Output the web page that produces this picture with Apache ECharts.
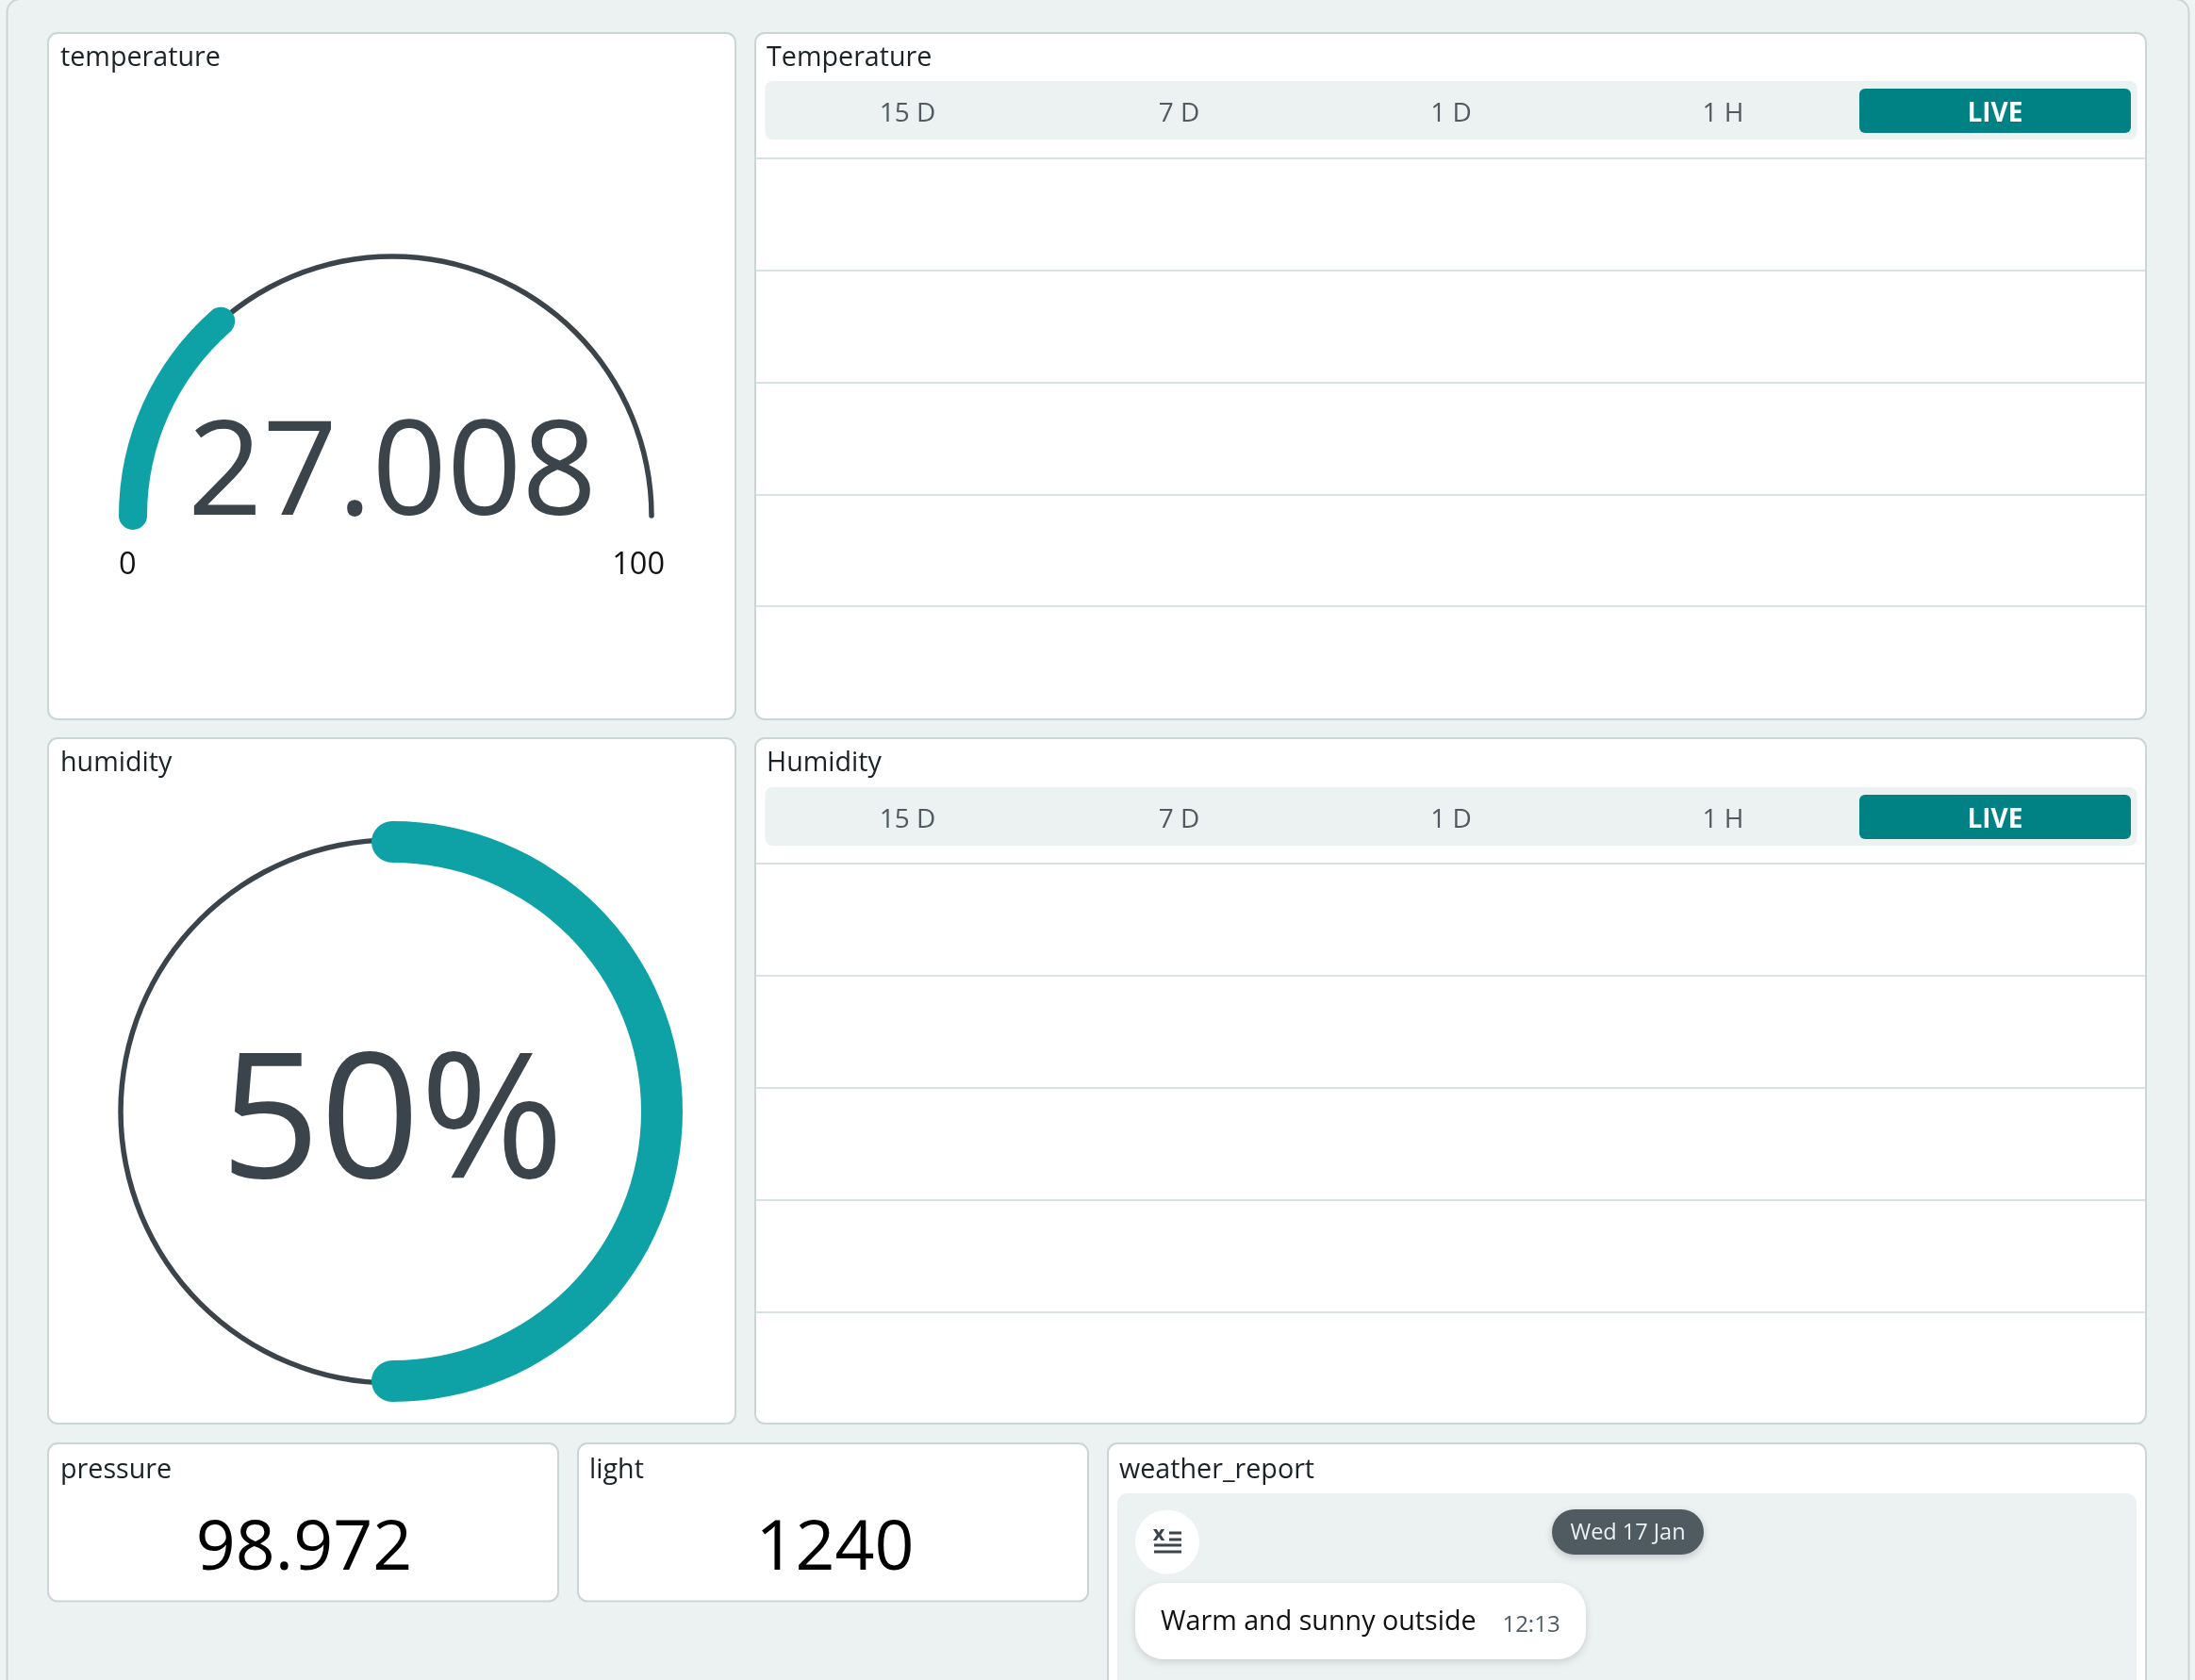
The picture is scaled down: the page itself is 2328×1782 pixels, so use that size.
<!DOCTYPE html>
<html><head><meta charset="utf-8">
<style>html,body{margin:0;padding:0;background:#ECF1F1}#c{width:2328px;height:1782px}</style>
<script src="https://cdn.jsdelivr.net/npm/echarts@6/dist/echarts.min.js"></script>
</head><body><div id="c"></div>
<script>
const temperatureValue = 27.008;
const temperatureRange = [0, 100];
const humidityValue = 50;
const humidityRange = [0, 100];
const pressureValue = '98.972';
const lightValue = '1240';
const rangeTabs = ['15 D', '7 D', '1 D', '1 H', 'LIVE'];
const temperatureHistory = [];
const humidityHistory = [];
const weatherMessage = 'Warm and sunny outside';
const weatherTime = '12:13';
const weatherDate = 'Wed 17 Jan';

const FONT = '"Open Sans", sans-serif';
const INK = '#3B444A', TEAL = '#0EA2A7', PANEL = '#ECF1F1', BORDER = '#CAD5D5', MUTED = '#4F5B61';
const gfx = [];
const box = (x, y, w, h, r, fill, stroke, lw, extra) => gfx.push({type:'rect', silent:true, z:(extra&&extra.z)||1,
  shape:{x, y, width:w, height:h, r},
  style:Object.assign({fill, stroke:stroke||null, lineWidth:lw||0}, (extra&&extra.style)||{})});
const txt = (text, x, y, size, fill, align, weight) => gfx.push({type:'text', silent:true, z:10,
  style:{text, x, y, fill, align:align||'left', verticalAlign:'middle',
    font:(weight||'400')+' '+size+'px '+FONT}});

// outer frame
box(7.5, -1, 2314, 1800, 14, PANEL, BORDER, 2);
// cards
box(51, 35, 729, 728, 10, '#fff', BORDER, 2);
box(801, 35, 1475, 728, 10, '#fff', BORDER, 2);
box(51, 783, 729, 727, 10, '#fff', BORDER, 2);
box(801, 783, 1475, 727, 10, '#fff', BORDER, 2);
box(51, 1531, 541, 167.5, 10, '#fff', BORDER, 2);
box(613, 1531, 541, 167.5, 10, '#fff', BORDER, 2);
box(1175, 1531, 1101, 300, 10, '#fff', BORDER, 2);

const CARD_TITLE = 28.7;
txt('temperature', 64, 61.5, CARD_TITLE, '#1a2226');
txt('Temperature', 813, 61.5, CARD_TITLE, '#1a2226');
txt('humidity', 64, 810, CARD_TITLE, '#1a2226');
txt('Humidity', 813, 810, CARD_TITLE, '#1a2226');
txt('pressure', 64, 1559.5, CARD_TITLE, '#1a2226');
txt('light', 625, 1559.5, CARD_TITLE, '#1a2226');
txt('weather_report', 1187, 1559.5, CARD_TITLE, '#1a2226');

// range tabs
const tabX = [962.6, 1250.5, 1539, 1827.5, 2116];
[0, 749].forEach(dy => {
  box(811.5, 86+dy, 1455, 62, 8, PANEL);
  box(1972, 94+dy, 288, 47, 6, '#008184');
  rangeTabs.forEach((t, i) => {
    const live = t === 'LIVE';
    txt(t, tabX[i], 121.5+dy, 28, live ? '#fff' : MUTED, 'center', live ? '700' : '400');
  });
});

// gauge end labels
txt(String(temperatureRange[0]), 126, 599.5, 32.5, '#111', 'left');
txt(String(temperatureRange[1]), 705, 599.5, 32.5, '#111', 'right');

// bottom values
txt(pressureValue, 322.5, 1644.5, 73.5, '#000', 'center');
txt(lightValue, 885.5, 1644.5, 73.5, '#000', 'center');

// weather report
box(1185, 1584, 1081, 260, 10, PANEL);
gfx.push({type:'circle', silent:true, z:2, shape:{cx:1238, cy:1635.5, r:34}, style:{fill:'#fff'}});
txt('x', 1229, 1627.5, 22, '#3B444A', 'center', '700');
[[1240,1626,13],[1240,1633,13],[1224,1639,29],[1224,1646,29]].forEach(l =>
  box(l[0], l[1]-1.5, l[2], 3, 0, '#3B444A', null, 0, {z:5}));
box(1646, 1601, 161, 48, 24, '#4F5B61', null, 0, {z:2, style:{shadowBlur:8, shadowOffsetY:3, shadowColor:'rgba(0,0,0,0.18)'}});
txt(weatherDate, 1726.5, 1626, 23.5, '#ECF1F1', 'center');
box(1204, 1679, 478, 81, 30, '#fff', null, 0, {z:2, style:{shadowBlur:8, shadowOffsetY:3, shadowColor:'rgba(0,0,0,0.14)'}});
txt(weatherMessage, 1231, 1720.5, 28.7, '#111', 'left');
txt(weatherTime, 1624, 1724, 24, MUTED, 'center');

const gaugeBase = (center, radius, start, end, range) => ({
  type:'gauge', center, radius, startAngle:start, endAngle:end, min:range[0], max:range[1],
  pointer:{show:false}, axisTick:{show:false}, splitLine:{show:false}, axisLabel:{show:false},
  anchor:{show:false}, title:{show:false}, silent:true, animation:false
});
const gaugePair = (center, rTrack, rBar, barW, start, end, range, value, fmt, size, off) => [
  Object.assign(gaugeBase(center, rTrack+2.75, start, end, range), {
    axisLine:{show:true, roundCap:true, lineStyle:{width:5.5, color:[[1, INK]]}},
    progress:{show:false}, detail:{show:false}, data:[{value}]
  }),
  Object.assign(gaugeBase(center, rBar+barW/2, start, end, range), {
    axisLine:{show:false},
    progress:{show:true, roundCap:true, width:barW, itemStyle:{color:TEAL}},
    detail:{show:true, offsetCenter:off, formatter:fmt, color:INK, fontSize:size, fontFamily:'Open Sans', fontWeight:400},
    data:[{value}]
  })
];

const flatAxis = i => ({gridIndex:i, type:'time', show:false});
const yAxis = i => ({gridIndex:i, type:'value', min:0, max:100, interval:25, z:5,
  axisLine:{show:false}, axisTick:{show:false}, axisLabel:{show:false},
  splitLine:{show:true, lineStyle:{color:'#DAE3E3', width:2}}});

const chart = echarts.init(document.getElementById('c'), null, {renderer:'canvas', devicePixelRatio:1});
chart.setOption({
  animation:false,
  backgroundColor:'#EEF3F3',
  graphic:{elements:gfx},
  grid:[
    {left:802, width:1473, top:168, height:475},
    {left:802, width:1473, top:916, height:476}
  ],
  xAxis:[flatAxis(0), flatAxis(1)],
  yAxis:[yAxis(0), yAxis(1)],
  series:[
    {type:'line', xAxisIndex:0, yAxisIndex:0, data:temperatureHistory},
    {type:'line', xAxisIndex:1, yAxisIndex:1, data:humidityHistory},
    ...gaugePair([416,547], 275, 275, 30, 180, 0, temperatureRange, temperatureValue, v => String(v), 139, [0,-41]),
    ...gaugePair([416,1179], 288, 286, 44, 90, -270, humidityRange, humidityValue, v => v + '%', 185, [0,17])
  ]
});
</script></body></html>
